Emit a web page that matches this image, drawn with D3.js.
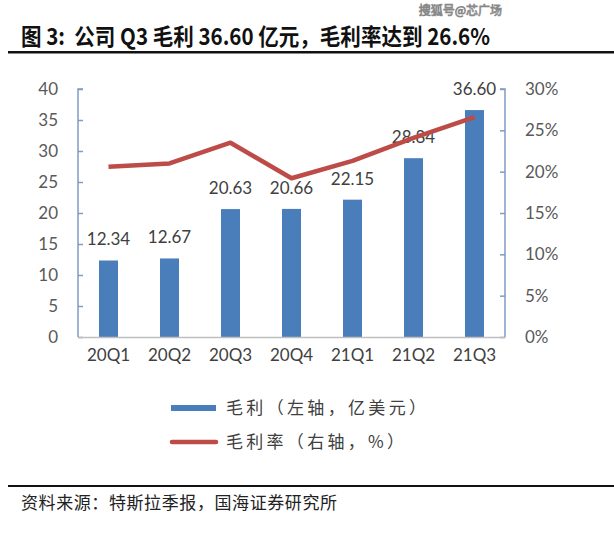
<!DOCTYPE html>
<html>
<head>
<meta charset="utf-8">
<script src="https://cdn.jsdelivr.net/npm/d3@7"></script>
<style>
  body { margin: 0; background: #fff; }
  svg { display: block; }
</style>
</head>
<body>
<svg id="chart" width="614" height="544"></svg>
<script>
const quarters = ['20Q1', '20Q2', '20Q3', '20Q4', '21Q1', '21Q2', '21Q3'];
const grossProfit = [12.34, 12.67, 20.63, 20.66, 22.15, 28.84, 36.60];
const grossMargin = [20.6, 21.0, 23.5, 19.2, 21.3, 24.1, 26.6];
const leftTicks = [0, 5, 10, 15, 20, 25, 30, 35, 40];
const rightTicks = [0, 5, 10, 15, 20, 25, 30];

const svg = d3.select('#chart');
const numFont = 'Lato, "Open Sans", sans-serif';
const cjkFont = '"Noto Sans CJK SC", sans-serif';
const margin = {left: 78, right: 109, top: 89, bottom: 207};
const W = 614, H = 544;

// Title
svg.append('text')
  .attr('x', 21).attr('y', 44.5)
  .attr('font-family', cjkFont).attr('font-weight', 'bold')
  .attr('font-size', 23).attr('fill', '#111')
  .attr('textLength', 469).attr('lengthAdjust', 'spacingAndGlyphs')
  .text('图 3:\u00a0 公司 Q3 毛利 36.60 亿元，毛利率达到 26.6%');

// watermark
svg.append('text')
  .attr('x', 502).attr('y', 14.5).attr('text-anchor', 'end')
  .attr('font-family', cjkFont).attr('font-size', 12)
  .attr('fill', '#fff').attr('stroke', '#888').attr('stroke-width', 0.8)
  .text('搜狐号@芯广场');

svg.append('rect').attr('x', 8).attr('y', 51).attr('width', 606).attr('height', 2.5).attr('fill', '#111');
svg.append('rect').attr('x', 8).attr('y', 485).attr('width', 606).attr('height', 2).attr('fill', '#111');

svg.append('text')
  .attr('x', 21).attr('y', 509)
  .attr('font-family', cjkFont).attr('font-size', 17).attr('fill', '#222')
  .attr('textLength', 316)
  .text('资料来源：特斯拉季报，国海证券研究所');

// Scales
const x = d3.scaleBand().domain(quarters).range([margin.left, W - margin.right]);
const yL = d3.scaleLinear().domain([0, 40]).range([337, margin.top]);
const yR = d3.scaleLinear().domain([0, 30]).range([337, margin.top]);

const axisColor = '#7f9cc4';

// Bars
svg.selectAll('rect.bar')
  .data(grossProfit)
  .enter().append('rect')
  .attr('class', 'bar')
  .attr('x', (d, i) => x(quarters[i]) + x.bandwidth() / 2 - 9.5)
  .attr('width', 19)
  .attr('y', d => yL(d))
  .attr('height', d => yL(0) - yL(d))
  .attr('fill', '#4a7ebb');

// Bar labels
svg.selectAll('text.lbl')
  .data(grossProfit)
  .enter().append('text')
  .attr('class', 'lbl')
  .attr('x', (d, i) => x(quarters[i]) + x.bandwidth() / 2)
  .attr('y', d => yL(d) - 15)
  .attr('text-anchor', 'middle')
  .attr('font-family', numFont).attr('font-size', 17).attr('fill', '#404040')
  .text(d => d.toFixed(2));

// Line
svg.append('path')
  .datum(grossMargin)
  .attr('fill', 'none')
  .attr('stroke', '#bd4b48')
  .attr('stroke-width', 4.5)
  .attr('stroke-linejoin', 'round')
  .attr('d', d3.line()
    .x((d, i) => x(quarters[i]) + x.bandwidth() / 2)
    .y(d => yR(d)));

// Left axis
const gL = svg.append('g').attr('transform', `translate(${margin.left},0)`)
  .call(d3.axisRight(yL).tickValues(leftTicks).tickSize(5).tickFormat(''));
gL.selectAll('path,line').attr('stroke', axisColor).attr('stroke-width', 1.5);
gL.select('.domain').attr('d', `M5,${margin.top}H0V337`);
svg.selectAll('text.ltick').data(leftTicks).enter().append('text')
  .attr('class', 'ltick')
  .attr('x', 58).attr('y', d => yL(d) + 6)
  .attr('text-anchor', 'end')
  .attr('font-family', numFont).attr('font-size', 17).attr('fill', '#595959')
  .text(d => d);

// Right axis
const gR = svg.append('g').attr('transform', `translate(${W - margin.right},0)`)
  .call(d3.axisLeft(yR).tickValues(rightTicks).tickSize(5).tickFormat(''));
gR.selectAll('path,line').attr('stroke', axisColor).attr('stroke-width', 1.5);
gR.select('.domain').attr('d', `M-5,${margin.top}H0V337`);
svg.selectAll('text.rtick').data(rightTicks).enter().append('text')
  .attr('class', 'rtick')
  .attr('x', 525).attr('y', d => yR(d) + 6)
  .attr('font-family', numFont).attr('font-size', 17).attr('fill', '#595959')
  .text(d => d + '%');

// Bottom axis
const gB = svg.append('g').attr('transform', 'translate(0,337)')
  .call(d3.axisBottom(x).tickSize(0).tickPadding(12));
gB.select('.domain').attr('stroke', '#bfbfbf').attr('stroke-width', 1.5);
gB.selectAll('text')
  .attr('font-family', numFont).attr('font-size', 17).attr('fill', '#404040');

// Legend
svg.append('rect').attr('x', 171).attr('y', 405).attr('width', 45).attr('height', 6).attr('fill', '#4a7ebb');
svg.append('text').attr('x', 226).attr('y', 414)
  .attr('font-family', cjkFont).attr('font-size', 17).attr('fill', '#404040')
  .attr('textLength', 200)
  .text('毛利（左轴，亿美元）');
svg.append('line').attr('x1', 172).attr('x2', 216).attr('y1', 442).attr('y2', 442)
  .attr('stroke', '#bd4b48').attr('stroke-width', 4.5).attr('stroke-linecap', 'round');
svg.append('text').attr('x', 226).attr('y', 448)
  .attr('font-family', cjkFont).attr('font-size', 17).attr('fill', '#404040')
  .attr('textLength', 178)
  .text('毛利率（右轴，%）');
</script>
</body>
</html>
